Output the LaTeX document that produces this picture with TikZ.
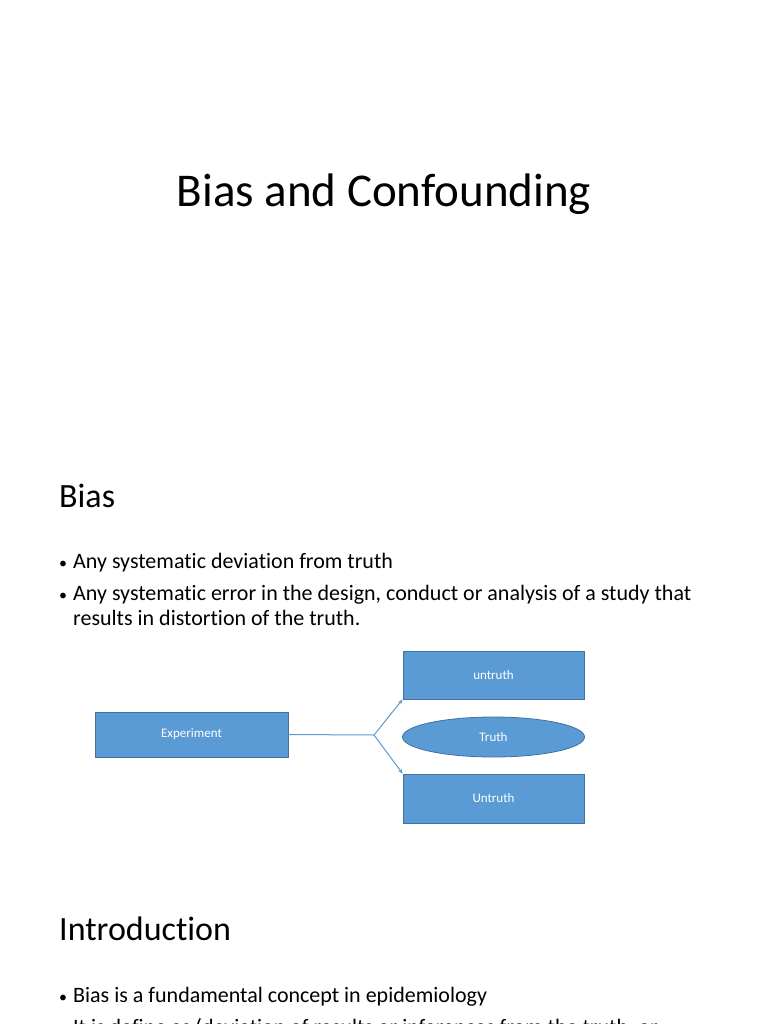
\documentclass[tikz,border=0pt]{standalone}
\usepackage{fontspec}
\setmainfont[Ligatures={NoCommon}]{Carlito}
\usetikzlibrary{shapes.geometric,arrows.meta}
\definecolor{bfill}{HTML}{5B9BD5}
\definecolor{bline}{HTML}{41719C}
\newcommand{\bul}{\makebox[14pt][l]{{\fontsize{16}{16}\selectfont •}}}
\tikzset{
  box/.style={draw=bline,fill=bfill,line width=0.8pt,text=white,font=\fontsize{13}{15}\selectfont},
  body/.style={anchor=base west,inner sep=0pt,font=\fontsize{22}{26}\selectfont},
  conn/.style={draw=bfill,line width=1pt},
}
\begin{document}
\begin{tikzpicture}[x=1pt,y=-1pt]
\useasboundingbox (0,0) rectangle (768,1024);
\clip (0,0) rectangle (768,1024);
\fill[white] (0,0) rectangle (768,1024);
\node[anchor=base,inner sep=0pt,font=\fontsize{47}{50}\selectfont] (title) at (384,207) {Bias and Confounding};
\node[body,font=\fontsize{34}{38}\selectfont] (h1) at (59,507) {Bias};
\node[body] (b1) at (59,568) {\bul Any systematic deviation from truth};
\node[body] (b2) at (59,600) {\bul Any systematic error in the design, conduct or analysis of a study that};
\node[body] (b2b) at (73,625) {results in distortion of the truth.};
\node[box,minimum width=193pt,minimum height=45pt] (exp) at (191.5,734.5) {Experiment};
\node[box,minimum width=181pt,minimum height=48pt] (u1) at (493.5,675) {untruth};
\node[box,ellipse,minimum width=182pt,minimum height=40pt,inner sep=0pt] (tr) at (493.5,737) {Truth};
\node[box,minimum width=181pt,minimum height=49pt] (u2) at (493.5,798.5) {Untruth};
\coordinate (fork) at (374,735);
\draw[conn] (exp.east) -- (fork);
\draw[conn,-{Stealth[length=5pt,width=4pt]}] (fork) -- (u1.south west);
\draw[conn,-{Stealth[length=5pt,width=4pt]}] (fork) -- (u2.north west);
\node[body,font=\fontsize{34}{38}\selectfont] (h2) at (59,940) {Introduction};
\node[body] (c1) at (59,1002) {\bul Bias is a fundamental concept in epidemiology};
\node[body] (c2) at (59,1034) {\bul It is define as (deviation of results or inferences from the truth, or};
\end{tikzpicture}
\end{document}
